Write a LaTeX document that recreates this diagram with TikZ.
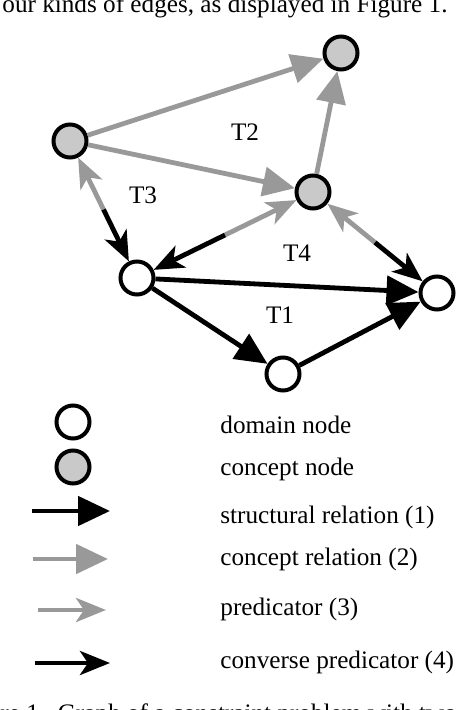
\documentclass[tikz,border=0pt]{standalone}
\usepackage{fontspec}
\setmainfont{Liberation Serif}
\usetikzlibrary{arrows.meta,calc}
\definecolor{edgegray}{gray}{0.6}
\definecolor{nodegray}{gray}{0.79}

\begin{document}
\begin{tikzpicture}[x=0.5pt,y=-0.5pt,
  font=\fontsize{12.6}{15}\selectfont,
  dom/.style={circle,draw,line width=2pt,fill=white,minimum size=16.5pt,inner sep=0pt},
  con/.style={dom,fill=nodegray},
  struct/.style={draw=black,line width=2.4pt,-{Triangle[length=16pt,width=14.5pt]}},
  crel/.style={draw=edgegray,line width=2.4pt,-{Triangle[length=16pt,width=14.5pt]}},
  pred/.style={draw=edgegray,line width=2.4pt,-{Stealth[length=15pt,width=12pt,inset=4pt]}},
  conv/.style={draw=black,line width=2.4pt,-{Stealth[length=15pt,width=12pt,inset=4pt]}}]

\useasboundingbox (0,0) rectangle (474,710);
\clip (0,0) rectangle (474,710);

% surrounding text of the page
\node[anchor=base west,inner sep=0pt] (above) at (2,13) {our kinds of edges, as displayed in Figure 1.};
\node[anchor=base west,inner sep=0pt] (caption) at (0,721) {re 1.\ \ Graph of a constraint problem with two};

% graph
\node[con] (C1) at (341,53) {};
\node[con] (C2) at (70,141) {};
\node[con] (C3) at (313,192) {};
\node[dom] (D1) at (137,278) {};
\node[dom] (D2) at (437,293) {};
\node[dom] (D3) at (283,374) {};

\draw[crel] (C2) -- (C1);
\draw[crel] (C2) -- (C3);
\draw[crel] (C3) -- (C1);
\draw[struct] (D1) -- (D2);
\draw[struct] (D1) -- (D3);
\draw[struct] (D3) -- (D2);

\foreach \c/\d [count=\i] in {C2/D1,C3/D1,C3/D2}
 {\coordinate (m\i) at ($(\c)!.5!(\d)$);
 \draw[pred] (m\i) -- (\c);
 \draw[conv] (m\i) -- (\d);
 }

\node (T1) at (280,315) {T1};
\node (T2) at (245,132) {T2};
\node (T3) at (143,195) {T3};
\node (T4) at (297,253) {T4};

% legend
\node[dom] (ldom) at (73,422) {};
\node[con] (lcon) at (73,467) {};
\node[anchor=base west,inner sep=0pt] (tdom) at (220,433) {domain node};
\node[anchor=base west,inner sep=0pt] (tcon) at (220,475) {concept node};

\foreach \st/\xa/\xb/\y/\yt/\txt [count=\i] in
 {struct/32/110/511/523/structural relation (1),
  crel/33/108/559/565/concept relation (2),
  pred/38/106/610/615/predicator (3),
  conv/35/110/663/668/converse predicator (4)}
 {\coordinate (a\i) at (\xa,\y);
 \coordinate (b\i) at (\xb,\y);
 \draw[\st] (a\i) -- (b\i);
 \node[anchor=base west,inner sep=0pt] (t\i) at (220,\yt) {\txt};
 }

\end{tikzpicture}
\end{document}
